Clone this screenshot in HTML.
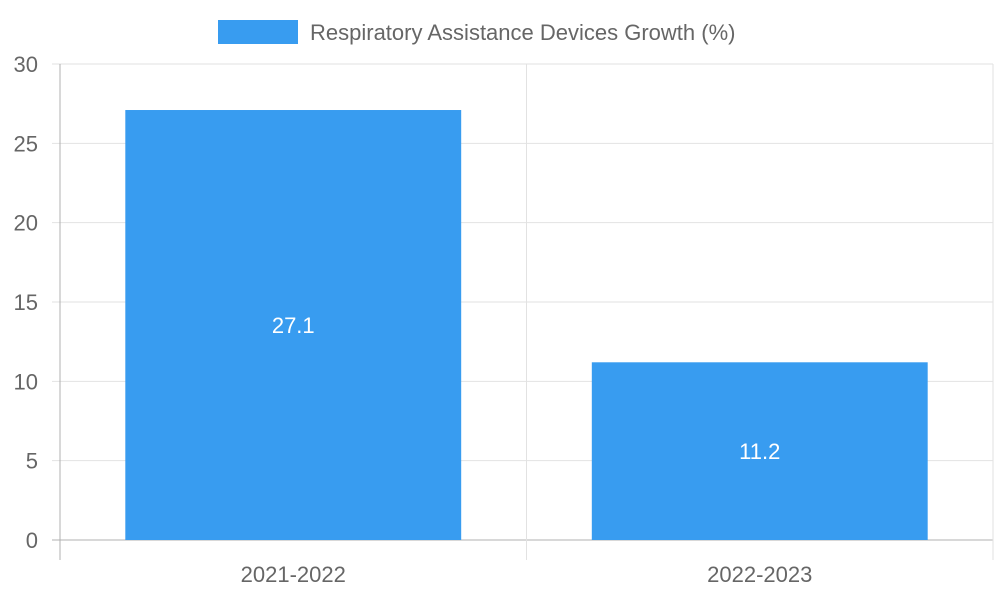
<!DOCTYPE html>
<html><head><meta charset="utf-8"><style>
body{margin:0;background:#fff;}
svg{display:block;font-family:"Liberation Sans",sans-serif;}
</style></head><body>
<svg id="chart" width="1000" height="600"></svg>
<script>
const categories = ["2021-2022", "2022-2023"];
const values = [27.1, 11.2];
const yTicks = [0, 5, 10, 15, 20, 25, 30];
const seriesName = "Respiratory Assistance Devices Growth (%)";

const svg = document.getElementById('chart');
const NS = 'http://www.w3.org/2000/svg';
const L = 60, R = 993, T = 64, B = 540, yMax = 30;
const y = v => B - (v / yMax) * (B - T);
const band = (R - L) / categories.length;
const x = i => L + band * i;
function mk(tag, attrs, parent) {
  const e = document.createElementNS(NS, tag);
  for (const k in attrs) e.setAttribute(k, attrs[k]);
  (parent || svg).appendChild(e);
  return e;
}
// legend
const lg = mk('g', {});


mk('rect', {x: 218, y: 20, width: 80, height: 24, fill: '#389cf0'}, lg);
const lt = mk('text', {x: 310, y: 40, 'font-size': 22, fill: '#666'}, lg);
lt.textContent = seriesName;
// y grid + ticks
yTicks.forEach(t => {
  const gl = mk('line', {x1: 52, x2: R, y1: y(t), y2: y(t), stroke: t === 0 ? '#b0b0b0' : '#e2e2e2', 'stroke-width': 1});
  
  
  const tl = mk('text', {x: 38, y: y(t) + 8, 'font-size': 22, fill: '#666', 'text-anchor': 'end'});
  
  
  tl.textContent = t;
});
// x grid
for (let i = 0; i <= categories.length; i++) {
  const gl = mk('line', {x1: x(i), x2: x(i), y1: T, y2: 560, stroke: i === 0 ? '#b0b0b0' : '#e2e2e2', 'stroke-width': 1});
  
  
}
// bars
const bw = band * 0.72;
categories.forEach((c, i) => {
  const cx = x(i) + band / 2;
  const r = mk('rect', {x: cx - bw / 2, y: y(values[i]), width: bw, height: B - y(values[i]), fill: '#389cf0'});
  
  
  const vl = mk('text', {x: cx, y: (y(values[i]) + B) / 2 + 8, 'font-size': 22, fill: '#fff', 'text-anchor': 'middle'});
  
  
  vl.textContent = values[i];
  const xl = mk('text', {x: cx, y: 582, 'font-size': 22, fill: '#666', 'text-anchor': 'middle'});
  
  
  xl.textContent = c;
});
</script>
</body></html>
